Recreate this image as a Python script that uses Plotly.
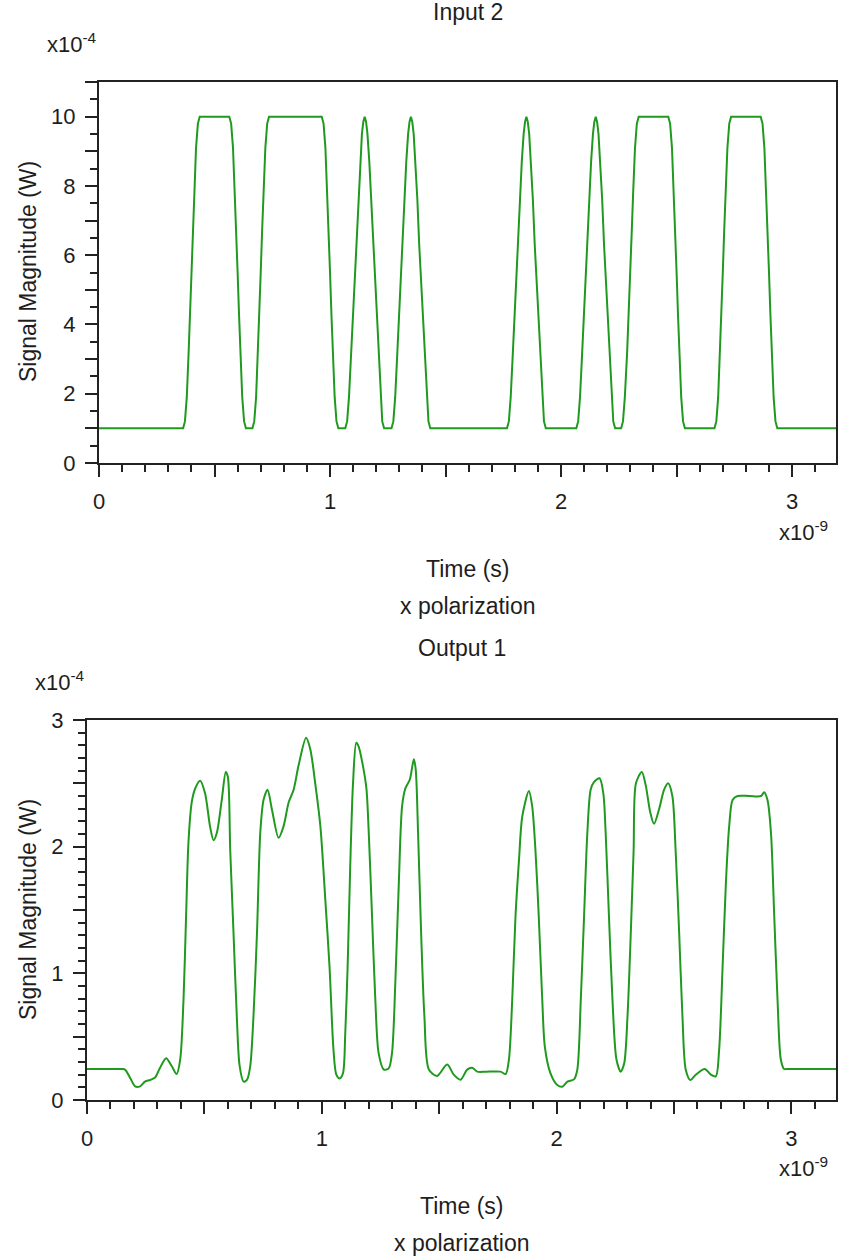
import plotly.graph_objects as go

# ---------------- data (time in ns, power in 1e-4 W) ----------------
t_in = [0.000,
        0.364, 0.372, 0.380, 0.388, 0.394, 0.400, 0.406, 0.412, 0.420, 0.428, 0.436,
        0.564, 0.572, 0.580, 0.588, 0.594, 0.600, 0.606, 0.612, 0.620, 0.628, 0.636,
        0.664, 0.672, 0.680, 0.688, 0.694, 0.700, 0.706, 0.712, 0.720, 0.728, 0.736,
        0.964, 0.972, 0.980, 0.988, 0.994, 1.000, 1.006, 1.012, 1.020, 1.028, 1.036,
        1.066, 1.074, 1.082, 1.090, 1.098, 1.106, 1.114, 1.122, 1.130, 1.138, 1.144, 1.150,
        1.156, 1.162, 1.170, 1.178, 1.186, 1.194, 1.202, 1.210, 1.218, 1.226, 1.234,
        1.266, 1.274, 1.282, 1.290, 1.298, 1.306, 1.314, 1.322, 1.330, 1.338, 1.344, 1.350,
        1.356, 1.362, 1.370, 1.378, 1.386, 1.394, 1.402, 1.410, 1.418, 1.426, 1.434,
        1.766, 1.774, 1.782, 1.790, 1.798, 1.806, 1.814, 1.822, 1.830, 1.838, 1.844, 1.850,
        1.856, 1.862, 1.870, 1.878, 1.886, 1.894, 1.902, 1.910, 1.918, 1.926, 1.934,
        2.066, 2.074, 2.082, 2.090, 2.098, 2.106, 2.114, 2.122, 2.130, 2.138, 2.144, 2.150,
        2.156, 2.162, 2.170, 2.178, 2.186, 2.194, 2.202, 2.210, 2.218, 2.226, 2.234,
        2.260, 2.268, 2.276, 2.286, 2.293, 2.300, 2.306, 2.312, 2.320, 2.328, 2.336,
        2.464, 2.472, 2.480, 2.488, 2.494, 2.500, 2.506, 2.512, 2.520, 2.528, 2.536,
        2.664, 2.672, 2.680, 2.688, 2.694, 2.700, 2.706, 2.712, 2.720, 2.728, 2.736,
        2.864, 2.872, 2.880, 2.888, 2.894, 2.900, 2.906, 2.912, 2.920, 2.928, 2.936,
        3.190]
p_in = [1.0,
        1.0, 1.2, 1.9, 3.2, 4.3, 5.5, 6.7, 7.8, 9.1, 9.8, 10.0,
        10.0, 9.8, 9.1, 7.8, 6.7, 5.5, 4.3, 3.2, 1.9, 1.2, 1.0,
        1.0, 1.2, 1.9, 3.2, 4.3, 5.5, 6.7, 7.8, 9.1, 9.8, 10.0,
        10.0, 9.8, 9.1, 7.8, 6.7, 5.5, 4.3, 3.2, 1.9, 1.2, 1.0,
        1.0, 1.2, 1.9, 3.0, 4.2, 5.3, 6.3, 7.6, 8.7, 9.5, 9.85, 10.0,
        9.85, 9.5, 8.7, 7.6, 6.3, 5.3, 4.2, 3.0, 1.9, 1.2, 1.0,
        1.0, 1.2, 1.9, 3.0, 4.2, 5.3, 6.3, 7.6, 8.7, 9.5, 9.85, 10.0,
        9.85, 9.5, 8.7, 7.6, 6.3, 5.3, 4.2, 3.0, 1.9, 1.2, 1.0,
        1.0, 1.2, 1.9, 3.0, 4.2, 5.3, 6.3, 7.6, 8.7, 9.5, 9.85, 10.0,
        9.85, 9.5, 8.7, 7.6, 6.3, 5.3, 4.2, 3.0, 1.9, 1.2, 1.0,
        1.0, 1.2, 1.9, 3.0, 4.2, 5.3, 6.3, 7.6, 8.7, 9.5, 9.85, 10.0,
        9.85, 9.5, 8.7, 7.6, 6.3, 5.3, 4.2, 3.0, 1.9, 1.2, 1.0,
        1.0, 1.2, 1.9, 3.2, 4.3, 5.5, 6.7, 7.8, 9.1, 9.8, 10.0,
        10.0, 9.8, 9.1, 7.8, 6.7, 5.5, 4.3, 3.2, 1.9, 1.2, 1.0,
        1.0, 1.2, 1.9, 3.2, 4.3, 5.5, 6.7, 7.8, 9.1, 9.8, 10.0,
        10.0, 9.8, 9.1, 7.8, 6.7, 5.5, 4.3, 3.2, 1.9, 1.2, 1.0,
        1.0]

t_out = [0.000, 0.100, 0.150, 0.162, 0.185, 0.205, 0.226, 0.247, 0.269, 0.290, 0.310, 0.337,
         0.360, 0.382, 0.397, 0.411, 0.422, 0.432, 0.446, 0.461, 0.482, 0.503,
         0.524, 0.539, 0.553, 0.574, 0.591, 0.600, 0.610, 0.624, 0.638, 0.650,
         0.667, 0.681, 0.695, 0.709, 0.724, 0.738, 0.752, 0.769, 0.788, 0.816,
         0.837, 0.859, 0.880, 0.901, 0.933, 0.951, 0.972, 0.994, 1.015, 1.033,
         1.050, 1.062, 1.076, 1.090, 1.100, 1.110, 1.121, 1.133, 1.147, 1.157,
         1.175, 1.190, 1.200, 1.214, 1.228, 1.242, 1.264, 1.285, 1.299, 1.313,
         1.328, 1.342, 1.356, 1.375, 1.392, 1.400, 1.410, 1.423, 1.437, 1.456,
         1.491, 1.534, 1.562, 1.591, 1.619, 1.641, 1.662, 1.700, 1.761, 1.783, 1.797,
         1.811, 1.825, 1.840, 1.854, 1.882, 1.896, 1.910, 1.924, 1.939, 1.950,
         1.974, 2.003, 2.024, 2.046, 2.074, 2.088, 2.103, 2.117, 2.131, 2.145,
         2.159, 2.183, 2.199, 2.209, 2.223, 2.238, 2.255, 2.273, 2.288, 2.302,
         2.316, 2.328, 2.338, 2.363, 2.380, 2.399, 2.415, 2.437, 2.458, 2.475,
         2.493, 2.507, 2.522, 2.536, 2.550, 2.569, 2.593, 2.631, 2.657, 2.678,
         2.692, 2.707, 2.721, 2.735, 2.750, 2.771, 2.820, 2.871, 2.884, 2.898, 2.913,
         2.927, 2.941, 2.955, 2.969, 2.985, 3.050, 3.190]
p_out = [0.245, 0.245, 0.245, 0.240, 0.170, 0.108, 0.108, 0.145, 0.158, 0.177, 0.250, 0.330,
         0.270, 0.205, 0.320, 0.790, 1.450, 2.030, 2.350, 2.460, 2.520, 2.420,
         2.160, 2.050, 2.110, 2.370, 2.590, 2.550, 1.970, 1.320, 0.660, 0.270,
         0.145, 0.158, 0.264, 0.660, 1.320, 2.110, 2.370, 2.450, 2.290, 2.070,
         2.160, 2.350, 2.450, 2.640, 2.860, 2.770, 2.500, 2.160, 1.580, 1.050,
         0.390, 0.200, 0.170, 0.210, 0.530, 1.050, 1.840, 2.500, 2.820, 2.790,
         2.640, 2.460, 2.110, 1.450, 0.790, 0.370, 0.240, 0.250, 0.370, 0.920,
         1.710, 2.320, 2.460, 2.530, 2.690, 2.610, 2.110, 1.320, 0.660, 0.240,
         0.190, 0.280, 0.200, 0.160, 0.240, 0.255, 0.224, 0.224, 0.224, 0.205, 0.320,
         0.790, 1.450, 1.900, 2.240, 2.440, 2.320, 1.970, 1.450, 0.790, 0.420,
         0.210, 0.118, 0.105, 0.145, 0.163, 0.237, 0.790, 1.450, 2.110, 2.450,
         2.510, 2.540, 2.420, 2.110, 1.450, 0.790, 0.320, 0.224, 0.290, 0.660,
         1.320, 1.970, 2.500, 2.590, 2.480, 2.270, 2.180, 2.300, 2.450, 2.500,
         2.400, 1.970, 1.320, 0.660, 0.240, 0.158, 0.200, 0.245, 0.200, 0.187,
         0.390, 1.050, 1.710, 2.160, 2.370, 2.400, 2.400, 2.400, 2.430, 2.370, 2.110,
         1.450, 0.790, 0.320, 0.245, 0.245, 0.245, 0.245]

x_tickvals = [0, 0.5, 1, 1.5, 2, 2.5, 3]
x_ticktext = ["0", "", "1", "", "2", "", "3"]
y1_tickvals = [0, 1, 2, 3, 4, 5, 6, 7, 8, 9, 10, 11]
y1_ticktext = ["0", "", "2", "", "4", "", "6", "", "8", "", "10", ""]
y2_tickvals = [0, 0.5, 1, 1.5, 2, 2.5, 3]
y2_ticktext = ["0", "", "1", "", "2", "", "3"]

# ---------------- styling ----------------
W, H = 850, 1258
FONT = "Liberation Sans, Arial, Helvetica, sans-serif"
TXT = "#1e1e1e"
AX = "#222222"
GREEN = "#1f9a1f"


def px(x):
    return x / W


def py(y):
    return 1 - y / H


def axis_common(**kw):
    d = dict(showline=True, linecolor=AX, linewidth=2, mirror=True,
             ticks="outside", ticklen=12, tickwidth=1.5, tickcolor=AX,
             showgrid=False, zeroline=False, automargin=False,
             tickfont=dict(family=FONT, size=22, color=TXT))
    d.update(kw)
    return d


fig = go.Figure()
fig.add_trace(go.Scatter(x=t_in, y=p_in, mode="lines", xaxis="x", yaxis="y",
                         line=dict(color=GREEN, width=2), showlegend=False,
                         hoverinfo="skip"))
fig.add_trace(go.Scatter(x=t_out, y=p_out, mode="lines", xaxis="x2", yaxis="y2",
                         line=dict(color=GREEN, width=2, shape="spline", smoothing=0.8),
                         showlegend=False, hoverinfo="skip"))

minor_x = dict(dtick=0.1, tick0=0, ticklen=7, tickwidth=1.5, tickcolor=AX, ticks="outside")

fig.update_layout(
    template="none",
    width=W, height=H,
    margin=dict(l=0, r=0, t=0, b=0, pad=0, autoexpand=False),
    paper_bgcolor="white", plot_bgcolor="white",
    xaxis=axis_common(domain=[px(99), px(836)], range=[0, 3.19], anchor="y",
                      tickmode="array", tickvals=x_tickvals, ticktext=x_ticktext,
                      minor=minor_x, ticklabelstandoff=6),
    yaxis=axis_common(domain=[py(463), py(82)], range=[0, 11], anchor="x",
                      tickmode="array", tickvals=y1_tickvals, ticktext=y1_ticktext,
                      minor=dict(dtick=0.5, tick0=0, ticklen=7, tickwidth=1.5,
                                 tickcolor=AX, ticks="outside"),
                      ticklabelstandoff=5),
    xaxis2=axis_common(domain=[px(87), px(836)], range=[0, 3.19], anchor="y2",
                       tickmode="array", tickvals=x_tickvals, ticktext=x_ticktext,
                       minor=minor_x, ticklabelstandoff=6),
    yaxis2=axis_common(domain=[py(1100), py(720)], range=[0, 3], anchor="x2",
                       tickmode="array", tickvals=y2_tickvals, ticktext=y2_ticktext,
                       minor=dict(dtick=0.1, tick0=0, ticklen=7, tickwidth=1.5,
                                  tickcolor=AX, ticks="outside"),
                       ticklabelstandoff=5),
)


def ann(text, x, y, xanchor="center", angle=0, size=23):
    fig.add_annotation(text=text, x=px(x), y=py(y), xref="paper", yref="paper",
                       xanchor=xanchor, yanchor="middle", showarrow=False,
                       textangle=angle,
                       font=dict(family=FONT, size=size, color=TXT))


# top panel
ann("Input 2", 467.5, 12)
ann("x10<sup>-4</sup>", 99, 43, xanchor="right", size=22)
ann("Signal Magnitude (W)", 28, 272, angle=-90)
ann("x10<sup>-9</sup>", 830, 531, xanchor="right", size=22)
ann("Time (s)", 467.5, 569)
ann("x polarization", 467.5, 606)
# bottom panel
ann("Output 1", 461.5, 648)
ann("x10<sup>-4</sup>", 87, 681, xanchor="right", size=22)
ann("Signal Magnitude (W)", 28, 910, angle=-90)
ann("x10<sup>-9</sup>", 830, 1167, xanchor="right", size=22)
ann("Time (s)", 461.5, 1206)
ann("x polarization", 461.5, 1243)

fig.write_html("out.html")
